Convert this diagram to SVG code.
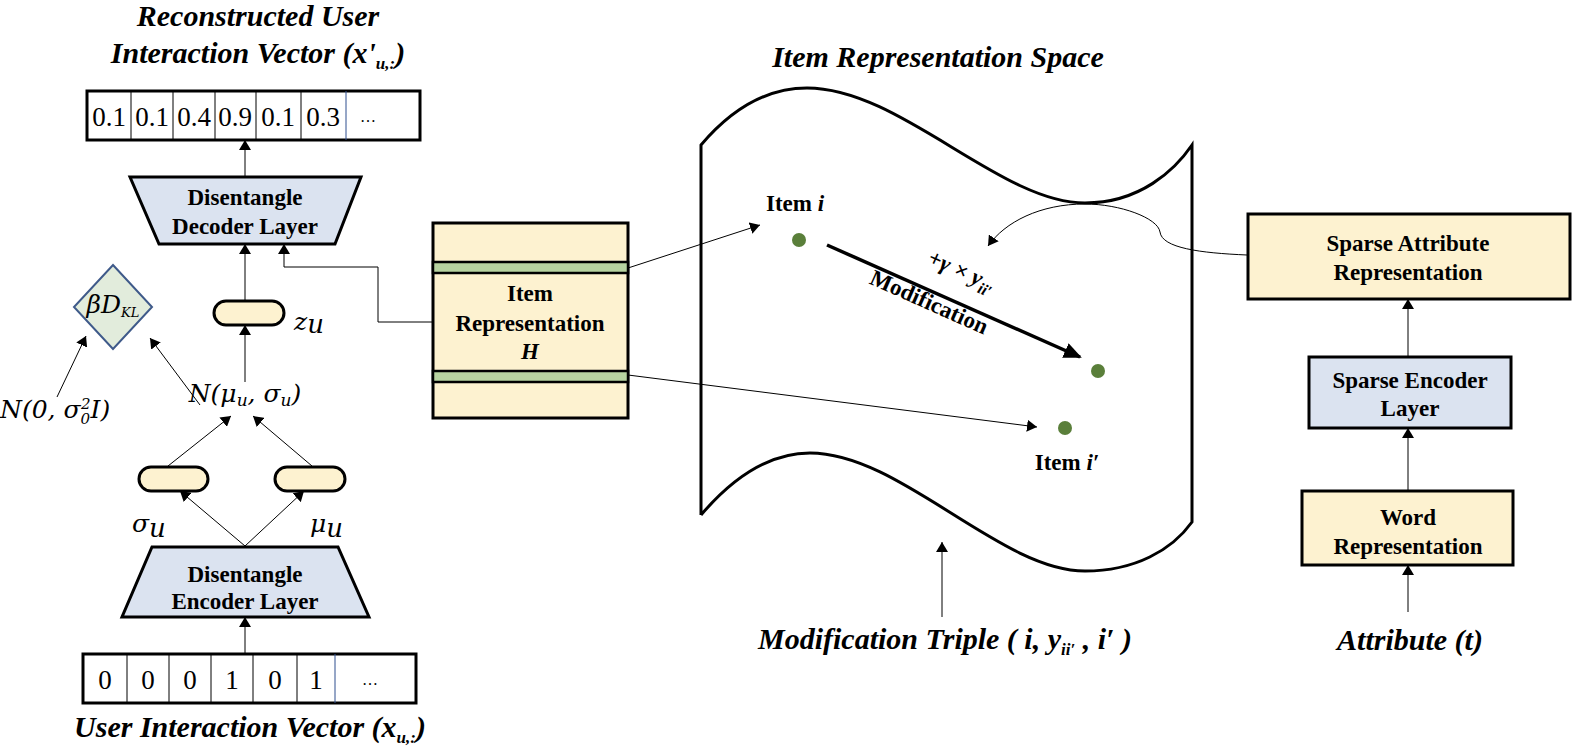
<svg xmlns="http://www.w3.org/2000/svg" width="1578" height="752" viewBox="0 0 1578 752">
<defs>
<marker id="ah" markerWidth="10" markerHeight="12" refX="10" refY="6" orient="auto" markerUnits="userSpaceOnUse" viewBox="0 0 10 12"><path d="M0,0 L10,6 L0,12 z" fill="#000"/></marker>
<marker id="ahb" markerWidth="18" markerHeight="16" refX="16" refY="8" orient="auto" markerUnits="userSpaceOnUse" viewBox="0 0 18 16"><path d="M0,0 L18,8 L0,16 z" fill="#000"/></marker>
<style>
.t{font-family:"Liberation Serif",serif;fill:#000}
.b{font-weight:bold;font-size:23px}
.ti{font-weight:bold;font-style:italic;font-size:30px}
.m{font-style:italic;font-size:25px;font-family:"DejaVu Serif","Liberation Serif",serif}
.c{font-size:27px}
.ln{stroke:#000;stroke-width:1;fill:none}
.box{stroke:#000;stroke-width:3}
.yel{fill:#fdf2d0}
.blu{fill:#dbe3f0}
</style>
</defs>
<g id="connectors" class="ln">
<line x1="245" y1="217" x2="245" y2="140" marker-end="url(#ah)"/>
<line x1="245" y1="301" x2="245" y2="244" marker-end="url(#ah)"/>
<polyline points="433,322 378,322 378,267 284,267 284,244" marker-end="url(#ah)"/>
<line x1="245" y1="382" x2="245" y2="325" marker-end="url(#ah)"/>
<line x1="200" y1="405" x2="150" y2="338" marker-end="url(#ah)"/>
<line x1="57" y1="397" x2="86" y2="336" marker-end="url(#ah)"/>
<line x1="168" y1="466" x2="231" y2="416" marker-end="url(#ah)"/>
<line x1="312" y1="466" x2="253" y2="416" marker-end="url(#ah)"/>
<line x1="245" y1="546" x2="180" y2="491" marker-end="url(#ah)"/>
<line x1="245" y1="546" x2="304" y2="491" marker-end="url(#ah)"/>
<line x1="245" y1="654" x2="245" y2="617" marker-end="url(#ah)"/>
<line x1="628" y1="268" x2="760" y2="225" marker-end="url(#ah)"/>
<line x1="628" y1="375" x2="1037" y2="427" marker-end="url(#ah)"/>
<line x1="827" y1="245" x2="1080" y2="357" stroke-width="3.5" marker-end="url(#ahb)"/>
<path d="M1247,255 C1200,253 1162,248 1160,232 C1158,218 1120,204 1085,204 C1040,204 1005,222 988,246" marker-end="url(#ah)"/>
<line x1="1408" y1="357" x2="1408" y2="299" marker-end="url(#ah)"/>
<line x1="1408" y1="491" x2="1408" y2="428" marker-end="url(#ah)"/>
<line x1="1408" y1="612" x2="1408" y2="565" marker-end="url(#ah)"/>
<line x1="942" y1="617" x2="942" y2="542" marker-end="url(#ah)"/>
</g>
<g id="title-out"><text class="t ti" x="258" y="26" text-anchor="middle">Reconstructed User</text>
<text class="t ti" x="258" y="63" text-anchor="middle">Interaction Vector (x'<tspan font-size="17" dy="6">u,:</tspan><tspan dy="-6">)</tspan></text></g>
<g id="out-vector">
<rect x="87" y="91" width="333" height="49" fill="#fff" class="box"/>
<g class="ln"><line x1="131" y1="91" x2="131" y2="140"/><line x1="173" y1="91" x2="173" y2="140"/><line x1="215" y1="91" x2="215" y2="140"/><line x1="256" y1="91" x2="256" y2="140"/><line x1="301" y1="91" x2="301" y2="140"/><line x1="346" y1="91" x2="346" y2="140" stroke="#2f4f8f"/></g>
<g class="t c" text-anchor="middle"><text x="109" y="126">0.1</text><text x="152" y="126">0.1</text><text x="194" y="126">0.4</text><text x="235" y="126">0.9</text><text x="278" y="126">0.1</text><text x="323" y="126">0.3</text><text x="368" y="122" font-size="16">…</text></g>
</g>
<g id="decoder"><polygon points="130,177 361,177 335,244 159,244" class="box blu"/>
<text class="t b" x="245" y="205" text-anchor="middle">Disentangle</text><text class="t b" x="245" y="234" text-anchor="middle">Decoder Layer</text></g>
<g id="zu"><rect x="214" y="301" width="70" height="24" rx="12" class="box yel"/><text class="t m" x="294" y="330" font-size="34">z<tspan font-size="26" dy="3">u</tspan></text></g>
<g id="kl"><polygon points="113,265 152,307 113,349 74,307" fill="#e2ecdc" stroke="#3f5a8a" stroke-width="2"/><text class="t m" x="113" y="313" text-anchor="middle" font-size="19">βD<tspan font-size="13" dy="4">KL</tspan></text></g>
<g id="normal"><text class="t m" x="245" y="402" text-anchor="middle">N(μ<tspan font-size="17" dy="4">u</tspan><tspan dy="-4">, σ</tspan><tspan font-size="17" dy="4">u</tspan><tspan dy="-4">)</tspan></text></g>
<g id="prior"><text class="t m" x="0" y="418">N(0, σ<tspan font-size="15" dy="6">0</tspan><tspan font-size="15" dx="-9" dy="-15">2</tspan><tspan dy="9">I)</tspan></text></g>
<g id="sigma"><rect x="139" y="467" width="69" height="24" rx="12" class="box yel"/><text class="t m" x="132" y="532" font-size="34">σ<tspan font-size="26" dy="5">u</tspan></text></g>
<g id="mu"><rect x="275" y="467" width="70" height="24" rx="12" class="box yel"/><text class="t m" x="310" y="532" font-size="34">μ<tspan font-size="26" dy="5">u</tspan></text></g>
<g id="encoder"><polygon points="152,547 338,547 369,617 122,617" class="box blu"/>
<text class="t b" x="245" y="582" text-anchor="middle">Disentangle</text><text class="t b" x="245" y="609" text-anchor="middle">Encoder Layer</text></g>
<g id="in-vector">
<rect x="83" y="654" width="333" height="49" fill="#fff" class="box"/>
<g class="ln"><line x1="127" y1="654" x2="127" y2="703"/><line x1="169" y1="654" x2="169" y2="703"/><line x1="211" y1="654" x2="211" y2="703"/><line x1="253" y1="654" x2="253" y2="703"/><line x1="297" y1="654" x2="297" y2="703"/><line x1="335" y1="654" x2="335" y2="703" stroke="#2f4f8f"/></g>
<g class="t c" text-anchor="middle"><text x="105" y="689">0</text><text x="148" y="689">0</text><text x="190" y="689">0</text><text x="232" y="689">1</text><text x="275" y="689">0</text><text x="316" y="689">1</text><text x="370" y="685" font-size="16">…</text></g>
</g>
<g id="title-in"><text class="t ti" x="250" y="737" text-anchor="middle">User Interaction Vector (x<tspan font-size="17" dy="6">u,:</tspan><tspan dy="-6">)</tspan></text></g>
<g id="item-rep"><rect x="433" y="223" width="195" height="195" class="box yel"/>
<rect x="433" y="262" width="195" height="11" fill="#b7d3a0" stroke="#000" stroke-width="2.5"/>
<rect x="433" y="371" width="195" height="11" fill="#b7d3a0" stroke="#000" stroke-width="2.5"/>
<text class="t b" x="530" y="301" text-anchor="middle">Item</text><text class="t b" x="530" y="331" text-anchor="middle">Representation</text><text class="t b" x="530" y="359" text-anchor="middle" font-style="italic">H</text></g>
<g id="space">
<text class="t ti" x="938" y="67" text-anchor="middle">Item Representation Space</text>
<path d="M701,515 L701,145 C735,105 770,88 807,88 C900,88 1000,203 1085,203 C1140,203 1175,170 1192,145 L1192,522 C1172,550 1135,571 1085,571 C1000,571 900,453 810,453 C770,453 735,475 701,515" fill="none" stroke="#000" stroke-width="3"/>
</g>
<g id="item-i"><circle cx="799" cy="240" r="7" fill="#5a7f3a"/><text class="t b" x="766" y="211">Item <tspan font-style="italic">i</tspan></text></g>
<g id="item-mod"><circle cx="1098" cy="371" r="7" fill="#5a7f3a"/></g>
<g id="item-ip"><circle cx="1065" cy="428" r="7" fill="#5a7f3a"/><text class="t b" x="1067" y="470" text-anchor="middle">Item <tspan font-style="italic">i′</tspan></text></g>
<g id="mod-label" transform="rotate(24 940 290)">
<text class="t b" x="952" y="271" text-anchor="middle" font-style="italic" font-size="26">+γ × y<tspan font-size="16" dy="6">ii′</tspan></text>
<text class="t b" x="935" y="313" text-anchor="middle" font-size="27">Modification</text></g>
<g id="triple"><text class="t ti" x="945" y="649" text-anchor="middle">Modification Triple ( i, y<tspan font-size="17" dy="6">ii′</tspan><tspan dy="-6"> , i′ )</tspan></text></g>
<g id="sparse-attr"><rect x="1248" y="214" width="322" height="85" class="box yel"/><text class="t b" x="1408" y="251" text-anchor="middle">Sparse Attribute</text><text class="t b" x="1408" y="280" text-anchor="middle">Representation</text></g>
<g id="sparse-enc"><rect x="1309" y="357" width="202" height="71" class="box blu"/><text class="t b" x="1410" y="388" text-anchor="middle">Sparse Encoder</text><text class="t b" x="1410" y="416" text-anchor="middle">Layer</text></g>
<g id="word"><rect x="1302" y="491" width="211" height="74" class="box yel"/><text class="t b" x="1408" y="525" text-anchor="middle">Word</text><text class="t b" x="1408" y="554" text-anchor="middle">Representation</text></g>
<g id="attr"><text class="t ti" x="1410" y="650" text-anchor="middle">Attribute (t)</text></g>
</svg>
